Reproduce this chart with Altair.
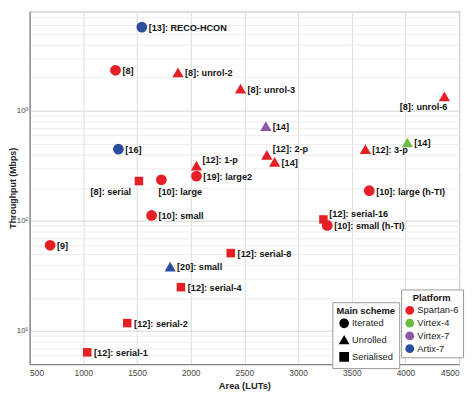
import altair as alt
import pandas as pd

labels = ["[13]: RECO-HCON", "[8]", "[8]: unrol-2", "[8]: unrol-3", "[8]: unrol-6",
          "[14]", "[16]", "[12]: 2-p", "[14]", "[12]: 3-p", "[14]", "[12]: 1-p",
          "[8]: serial", "[10]: large", "[19]: large2", "[10]: large (h-TI)",
          "[12]: serial-16", "[10]: small (h-TI)", "[10]: small", "[9]",
          "[12]: serial-8", "[20]: small", "[12]: serial-4", "[12]: serial-2", "[12]: serial-1"]
area = [1545, 1300, 1882, 2464, 4363,
        2700, 1327, 2709, 2782, 3627, 4018, 2054,
        1518, 1727, 2054, 3663,
        3236, 3272, 1636, 691,
        2373, 1809, 1909, 1409, 1036]
throughput = [5750, 2330, 2235, 1588, 1352,
              725, 448, 397, 344, 448, 515, 318,
              230, 236, 255, 188,
              103, 91, 112, 60,
              51, 38.5, 25, 11.8, 6.4]
platform = ["Artix-7", "Spartan-6", "Spartan-6", "Spartan-6", "Spartan-6",
            "Virtex-7", "Artix-7", "Spartan-6", "Spartan-6", "Spartan-6", "Virtex-4", "Spartan-6",
            "Spartan-6", "Spartan-6", "Spartan-6", "Spartan-6",
            "Spartan-6", "Spartan-6", "Spartan-6", "Spartan-6",
            "Spartan-6", "Artix-7", "Spartan-6", "Spartan-6", "Spartan-6"]
scheme = ["Iterated", "Iterated", "Unrolled", "Unrolled", "Unrolled",
          "Unrolled", "Iterated", "Unrolled", "Unrolled", "Unrolled", "Unrolled", "Unrolled",
          "Serialised", "Iterated", "Iterated", "Iterated",
          "Serialised", "Iterated", "Iterated", "Iterated",
          "Serialised", "Unrolled", "Serialised", "Serialised", "Serialised"]
label_pos = ["right", "right", "right", "right", "belowright",
             "right", "right", "upright", "right", "right", "right", "upright",
             "belowleft", "below", "right", "right",
             "upright", "right", "right", "right",
             "right", "right", "right", "right", "right"]

platform_order = ["Spartan-6", "Virtex-4", "Virtex-7", "Artix-7"]
platform_colors = ["#e41f26", "#6dbd45", "#8c57a7", "#2d4ea0"]
scheme_order = ["Iterated", "Unrolled", "Serialised"]
scheme_shapes = ["circle", "triangle-up", "square"]
scheme_sizes = [120, 130, 75]

x_ticks = [500, 1000, 1500, 2000, 2500, 3000, 3500, 4000, 4500]
y_ticks = [5, 6, 7, 8, 9, 10, 20, 30, 40, 50, 60, 70, 80, 90,
           100, 200, 300, 400, 500, 600, 700, 800, 900,
           1000, 2000, 3000, 4000, 5000, 6000, 7000, 8000]

df = pd.DataFrame(dict(label=labels, area=area, thr=throughput,
                       platform=platform, scheme=scheme, pos=label_pos))

FONT = "Liberation Sans"

x = alt.X("area:Q",
          scale=alt.Scale(domain=[500, 4500], nice=False, zero=False),
          axis=alt.Axis(values=x_ticks, title="Area (LUTs)", format="d",
                        labelFontSize=8.5, labelColor="#444", labelFont=FONT,
                        titleFont=FONT, titleFontSize=9.5, titleFontWeight="bold",
                        titleColor="#222", titlePadding=3, ticks=False,
                        labelPadding=5, gridColor="#dcdcdc", domainColor="#777"))
y = alt.Y("thr:Q",
          scale=alt.Scale(type="log", domain=[5, 8000], nice=False),
          axis=alt.Axis(values=y_ticks, title="Throughput (Mbps)",
                        labelExpr="datum.value == 10 ? '10¹' : datum.value == 100 ? '10²' : datum.value == 1000 ? '10³' : ''",
                        labelFontSize=8, labelColor="#444", labelFont=FONT,
                        titleFont=FONT, titleFontSize=9, titleFontWeight="bold",
                        titleColor="#222", titleX=-17, titleBaseline="middle",
                        ticks=False, labelPadding=2,
                        gridColor={"condition": {"test": "indexof([10,100,1000], datum.value) >= 0", "value": "#d4d4d4"}, "value": "#ececec"},
                        domainColor="#777"))

base = alt.Chart(df).encode(x=x, y=y)

legend_common = dict(orient="none", strokeColor="#999", fillColor="white", padding=4,
                     titleFontSize=9.5, labelFontSize=9.5, titleFont=FONT, labelFont=FONT,
                     titleFontWeight="bold", titleAnchor="middle", rowPadding=2,
                     titlePadding=3, labelColor="#222", titleColor="#111", labelOffset=3)

color_enc = alt.Color("platform:N",
                      scale=alt.Scale(domain=platform_order, range=platform_colors),
                      legend=alt.Legend(title="Platform", legendX=378, legendY=283,
                                        symbolType="circle", symbolSize=80,
                                        symbolStrokeWidth=0, **legend_common))
shape_enc = alt.Shape("scheme:N",
                      scale=alt.Scale(domain=scheme_order, range=scheme_shapes),
                      legend=alt.Legend(title="Main scheme", legendX=308, legendY=296,
                                        symbolFillColor="black", symbolStrokeColor="black",
                                        symbolSize=70, **legend_common))

point_layers = [
    base.transform_filter(alt.datum.scheme == s).mark_point(filled=True, opacity=1, size=sz)
        .encode(color=color_enc, shape=shape_enc)
    for s, sz in zip(scheme_order, scheme_sizes)
]

text_style = dict(font=FONT, fontSize=9.3, fontWeight="bold", color="#111")
groups = {
    "right": dict(align="left", baseline="middle", dx=7, dy=1),
    "upright": dict(align="left", baseline="middle", dx=6, dy=-6),
    "below": dict(align="left", baseline="middle", dx=-3, dy=12),
    "belowleft": dict(align="right", baseline="middle", dx=-8, dy=11),
    "belowright": dict(align="right", baseline="middle", dx=3, dy=11),
}
texts = [
    base.transform_filter(alt.datum.pos == g).mark_text(**text_style, **opts).encode(text="label:N")
    for g, opts in groups.items()
]

chart = alt.layer(*point_layers, *texts).properties(
    width=437, height=359,
    autosize=alt.AutoSizeParams(type="none"),
    padding={"left": 22, "top": 0, "right": 7, "bottom": 27},
).configure_view(stroke="#888")

chart.save("out.html", embed_options={"renderer": "svg", "actions": False})
